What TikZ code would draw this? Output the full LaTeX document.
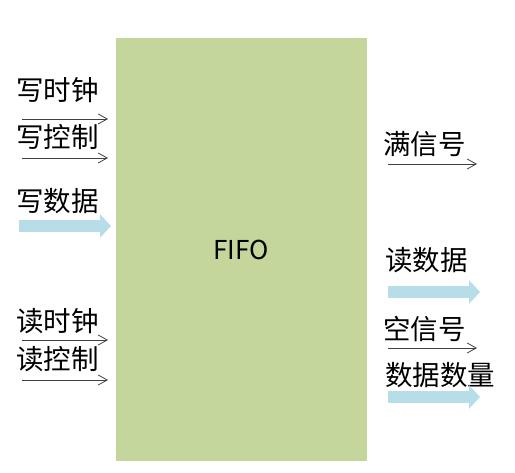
\documentclass[tikz,border=0pt]{standalone}
\usepackage{fontspec}
\setmainfont{Noto Sans CJK SC}
\usetikzlibrary{arrows.meta}
\definecolor{fifogreen}{RGB}{196,214,155}
\definecolor{datablue}{RGB}{183,221,232}
\begin{document}
\begin{tikzpicture}[x=1pt,y=-1pt]
  \tikzset{
    sig/.style={inner sep=0pt, anchor=west, font=\fontsize{27.5}{30}\selectfont},
    ctrl/.style={draw=black!75, line width=0.8pt, -{Straight Barb[length=9pt,width=10pt]}},
    data/.style={draw=datablue, line width=12pt, -{Triangle[length=11pt,width=23pt]}}
  }
  \path[use as bounding box] (0,0) rectangle (515,473);

  \node[fill=fifogreen, minimum width=251pt, minimum height=423pt, inner sep=0pt,
        font=\fontsize{26}{30}\selectfont] (fifo) at (241,250) {FIFO};

  % inputs
  \node[sig] (wclk) at (16,90) {写时钟};
  \node[sig] (wctl) at (16,137) {写控制};
  \node[sig] (wdat) at (16,201) {写数据};
  \node[sig] (rclk) at (16,321) {读时钟};
  \node[sig] (rctl) at (16,359) {读控制};

  % outputs
  \node[sig] (full) at (383,144) {满信号};
  \node[sig] (rdat) at (385,260) {读数据};
  \node[sig] (empty) at (383,329) {空信号};
  \node[sig] (count) at (385,375) {数据数量};

  \foreach \n/\y in {wclk/119, wctl/158, rclk/340, rctl/380} {
    \coordinate (\n a) at (22,\y);
    \coordinate (\n b) at (108,\y);
    \draw[ctrl] (\n a) -- (\n b);
  }
  \foreach \n/\y in {full/164, empty/348} {
    \coordinate (\n a) at (388,\y);
    \coordinate (\n b) at (477,\y);
    \draw[ctrl] (\n a) -- (\n b);
  }

  \coordinate (wdata) at (19,226);
  \coordinate (wdatb) at (111,226);
  \draw[data] (wdata) -- (wdatb);
  \foreach \n/\y in {rdat/292, count/397} {
    \coordinate (\n a) at (388,\y);
    \coordinate (\n b) at (480,\y);
    \draw[data] (\n a) -- (\n b);
  }
\end{tikzpicture}
\end{document}
